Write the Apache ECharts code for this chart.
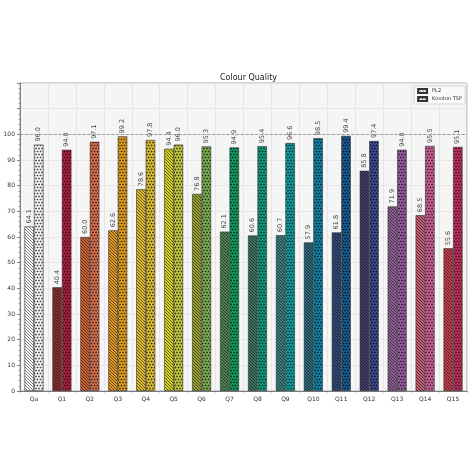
<!DOCTYPE html>
<html>
<head>
<meta charset="utf-8">
<script src="https://cdn.jsdelivr.net/npm/echarts@6/dist/echarts.min.js"></script>
<style>
html,body{margin:0;padding:0;background:#fff;}
#chart{width:474px;height:474px;}
</style>
</head>
<body>
<div id="chart"></div>
<script>
const categories = ['Qa','Q1','Q2','Q3','Q4','Q5','Q6','Q7','Q8','Q9','Q10','Q11','Q12','Q13','Q14','Q15'];
const pl2Values = [64.1,40.4,60.0,62.6,78.6,94.4,76.8,62.1,60.6,60.7,57.9,61.8,85.8,71.9,68.5,55.6];
const kinotonValues = [96.0,94.0,97.1,99.2,97.8,96.0,95.3,94.9,95.4,96.6,98.5,99.4,97.4,94.0,95.5,95.1];
const pl2Colors = ['#ffffff','#8c2f2f','#cf6233','#df9a22','#dfbd32','#d7d024','#98a233','#4f8452','#3f7462','#3d7f7f','#2e6a7c','#2f4c7a','#413f6d','#8f5f92','#c46272','#c2414f'];
const kinotonColors = ['#ffffff','#b2223c','#e27451','#eaa423','#e3c536','#c9d043','#7fb353','#12a163','#13a183','#14a2a2','#1385ab','#1b5c92','#414c94','#9a62a3','#d2649f','#c63462'];
const yTicks = [0,10,20,30,40,50,60,70,80,90,100];

function hatchPattern(base) {
  const c = document.createElement('canvas');
  c.width = 6; c.height = 6;
  const g = c.getContext('2d');
  g.fillStyle = base; g.fillRect(0,0,6,6);
  g.strokeStyle = 'rgba(0,0,0,0.7)';
  g.lineWidth = 0.75;
  for (let x0 = -6; x0 <= 6; x0 += 3) {
    g.beginPath(); g.moveTo(x0,0); g.lineTo(x0+6,6); g.stroke();
  }
  return {image: c, repeat: 'repeat'};
}
function dotPattern(base) {
  const c = document.createElement('canvas');
  c.width = 6; c.height = 6;
  const g = c.getContext('2d');
  g.fillStyle = base; g.fillRect(0,0,6,6);
  g.fillStyle = 'rgba(0,0,0,0.7)';
  const pts = [[1.5,1.5],[4.5,1.5],[0,4.5],[3,4.5],[6,4.5]];
  pts.forEach(p => { g.beginPath(); g.arc(p[0],p[1],0.95,0,Math.PI*2); g.fill(); });
  return {image: c, repeat: 'repeat'};
}

const labelCfg = {
  show: true, position: 'top', rotate: 90, align: 'left', verticalAlign: 'middle',
  distance: 3, fontSize: 6.5, color: '#444', fontFamily: 'DejaVu Sans',
  formatter: p => p.value.toFixed(1)
};

const chart = echarts.init(document.getElementById('chart'), null, {renderer: 'canvas'});
chart.setOption({
  animation: false,
  backgroundColor: '#ffffff',
  textStyle: {fontFamily: 'DejaVu Sans'},
  title: {
    text: 'Colour Quality', left: 243.5, top: 69, textAlign: 'center',
    textStyle: {fontSize: 8, fontWeight: 'normal', color: '#222', fontFamily: 'DejaVu Sans'}
  },
  legend: {
    right: 9, top: 86, orient: 'vertical', itemWidth: 9, itemHeight: 4, itemGap: 2,
    icon: 'rect',
    padding: [2,3,2,3], backgroundColor: '#fafafa', borderColor: '#ccc', borderWidth: 0.8,
    textStyle: {fontSize: 5, color: '#333', fontFamily: 'DejaVu Sans'},
    data: ['PL2','Kinoton TSP']
  },
  grid: {
    left: 20, right: 7, top: 83, bottom: 83, show: true,
    backgroundColor: '#f5f5f5', borderColor: '#aaa', borderWidth: 1
  },
  xAxis: [{
    type: 'category', data: categories,
    axisLine: {lineStyle: {color: '#666', width: 0.8}},
    axisTick: {alignWithLabel: true, length: 3, lineStyle: {color: '#666', width: 0.8}},
    axisLabel: {fontSize: 6, color: '#333', margin: 5, interval: 0},
    splitLine: {show: true, interval: 0, lineStyle: {color: '#e2e2e2', width: 0.8}}
  }, {
    type: 'category', data: categories, position: 'bottom',
    axisLine: {show: false},
    axisTick: {show: true, length: 1.5, interval: 0, lineStyle: {color: '#666', width: 0.6}},
    axisLabel: {show: false}, splitLine: {show: false}
  }],
  yAxis: {
    type: 'value', min: 0, max: 120, interval: 10,
    axisLine: {show: true, lineStyle: {color: '#666', width: 0.8}},
    axisTick: {show: true, length: 3, lineStyle: {color: '#666', width: 0.8}},
    minorTick: {show: true, splitNumber: 5, length: 1.5, lineStyle: {color: '#666', width: 0.6}},
    axisLabel: {fontSize: 6, color: '#333', margin: 5,
      formatter: v => (yTicks.indexOf(v) >= 0 ? String(v) : '')},
    splitLine: {show: true, lineStyle: {color: '#e4e4e4', width: 0.8}}
  },
  series: [{
    name: 'PL2', type: 'bar', barWidth: 9.5, barGap: '0%',
    itemStyle: {color: hatchPattern('#ffffff'), borderColor: '#333', borderWidth: 0.6},
    label: labelCfg,
    data: pl2Values.map((v, i) => ({value: v, itemStyle: {color: hatchPattern(pl2Colors[i])}})),
    markLine: {
      silent: true, symbol: 'none', label: {show: false},
      lineStyle: {color: '#888', type: 'dashed', width: 0.8},
      data: [{yAxis: 100}]
    }
  }, {
    name: 'Kinoton TSP', type: 'bar', barWidth: 9.5, barGap: '0%',
    itemStyle: {color: dotPattern('#ffffff'), borderColor: '#333', borderWidth: 0.6},
    label: labelCfg,
    data: kinotonValues.map((v, i) => ({value: v, itemStyle: {color: dotPattern(kinotonColors[i])}}))
  }]
});
</script>
</body>
</html>
